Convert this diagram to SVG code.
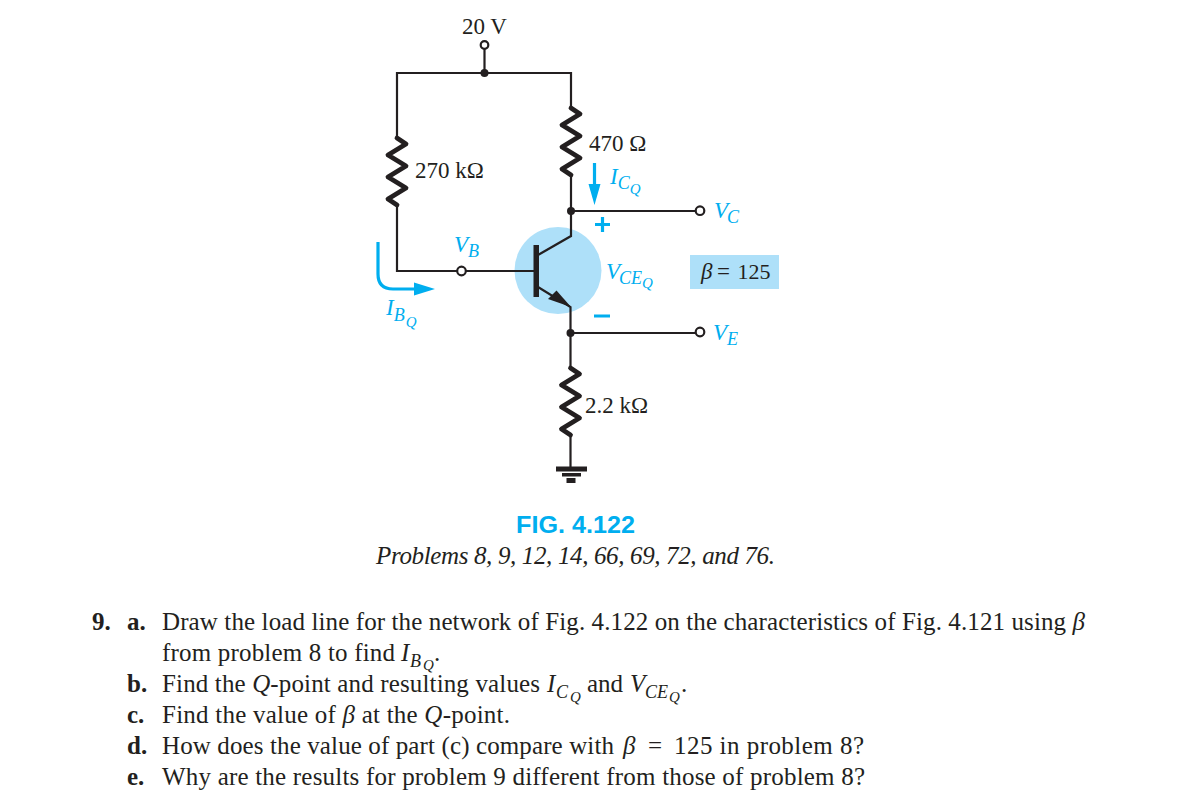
<svg xmlns="http://www.w3.org/2000/svg" width="1191" height="797" viewBox="0 0 1191 797">
<style>
text{font-family:"Liberation Serif","Times New Roman",serif;fill:#231f20}
.w{fill:none;stroke:#231f20;stroke-width:2.2;stroke-linejoin:miter}
.r{fill:none;stroke:#231f20;stroke-width:4.8;stroke-linejoin:round;stroke-linecap:round}
.b{fill:none;stroke:#00aeef;stroke-width:3.2}
.o{fill:#fff;stroke:#231f20;stroke-width:2.2}
.d{fill:#231f20}
.l{font-size:23px}
.v{font-size:23px;font-style:italic;fill:#00aeef}
.s{font-size:18px}
.t{font-size:15px}
.q{font-size:25px}
.qs{font-size:18px;font-style:italic}
.qt{font-size:15px;font-style:italic}
.m{font-weight:bold}
.i{font-style:italic}
.f{font-family:"Liberation Sans Narrow","Liberation Sans",Arial,sans-serif;font-weight:bold;font-size:23px;fill:#00aeef}
</style>
<defs>
<path id="res" class="r" d="M0 0L9 6L-9 17L9 28L-9 39L9 50L-9 61L0 67"/>
</defs>
<g id="highlights">
<circle cx="558" cy="270.500" r="43.500" fill="#aee0f9"/>
<rect x="690" y="255" width="89" height="34" fill="#aee0f9"/>
</g>
<g id="connectors">
<path class="w" d="M484.500 49V73M397 138V73H571V108M571 175V236L538 255"/>
<path class="w" d="M397 205V271H457M466 271H534"/>
<path class="w" d="M571 211H695M538 287L570.500 307V368M570.500 435V468M570.500 333H695"/>
<path d="M571 307L548 299L556.500 290.500Z" class="d"/>
<path class="b" d="M378 242V274Q378 289 393 289H418"/>
<path d="M435 289L414 282.500V295.500Z" fill="#00aeef"/>
<path class="b" d="M594.500 163V190"/>
<path d="M594.500 205L588.500 184H600.500Z" fill="#00aeef"/>
<path class="b" d="M595 224.500H610M602.500 217V232M594 316H610"/>
</g>
<g id="vcc">
<circle class="o" cx="484.500" cy="45" r="3.800"/>
<circle class="d" cx="484.500" cy="73" r="4"/>
<text class="l" x="462" y="34">20 V</text>
</g>
<g id="r-b">
<use href="#res" x="397" y="138"/>
<text class="l" x="415" y="178">270 kΩ</text>
</g>
<g id="r-c">
<use href="#res" x="571" y="108"/>
<text class="l" x="589" y="151">470 Ω</text>
</g>
<g id="r-e">
<use href="#res" x="570.500" y="368"/>
<text class="l" x="585" y="413">2.2 kΩ</text>
</g>
<g id="ground">
<rect class="d" x="556" y="466.500" width="31" height="5"/>
<rect class="d" x="562" y="473" width="19" height="3.500"/>
<rect class="d" x="566.500" y="478" width="9" height="5"/>
</g>
<g id="base-node">
<circle class="o" cx="461.500" cy="271" r="4.300"/>
<text class="v" x="454" y="252">V<tspan class="s" dy="5">B</tspan></text>
</g>
<g id="transistor">
<rect class="d" x="533.500" y="245" width="5.500" height="52"/>
</g>
<g id="node-c">
<circle class="d" cx="571" cy="211" r="4"/>
<circle class="o" cx="700" cy="210.700" r="4.300"/>
<text class="v" x="714" y="218">V<tspan class="s" dy="5" dx="-1">C</tspan></text>
</g>
<g id="node-e">
<circle class="d" cx="570.500" cy="333" r="4"/>
<circle class="o" cx="700" cy="332" r="4.300"/>
<text class="v" x="713" y="340">V<tspan class="s" dy="5">E</tspan></text>
</g>
<g id="labels">
<text class="v" x="606" y="279">V<tspan class="s" dy="5" dx="-1">CE</tspan><tspan class="t" dy="4">Q</tspan></text>
<text class="v" x="610" y="184">I<tspan class="s" dy="5">C</tspan><tspan class="t" dy="5">Q</tspan></text>
<text class="v" x="386" y="315">I<tspan class="s" dy="6">B</tspan><tspan class="t" dy="6" dx="1">Q</tspan></text>
<text class="l i" x="701" y="279">β</text>
<text class="l" x="717" y="279">=</text>
<text x="737.500" y="279" font-size="22">125</text>
</g>
<g id="caption">
<text class="f" x="516" y="533" textLength="119" lengthAdjust="spacingAndGlyphs">FIG. 4.122</text>
<text class="q i" x="376" y="564" textLength="399">Problems 8, 9, 12, 14, 66, 69, 72, and 76.</text>
</g>
<g id="questions">
<text class="q m" x="92" y="630">9.</text>
<text class="q m" x="127" y="630">a.</text>
<text class="q" x="162" y="630" textLength="923">Draw the load line for the network of Fig. 4.122 on the characteristics of Fig. 4.121 using <tspan class="i">β</tspan></text>
<text class="q" x="162" y="661" textLength="233">from problem 8 to find</text>
<text class="q i" x="401" y="661">I</text>
<text class="qs" x="410" y="667">B</text><text class="qt" x="423" y="670">Q</text><text class="q" x="434" y="661">.</text>
<text class="q m" x="127" y="692">b.</text>
<text class="q" x="162" y="692" textLength="378">Find the <tspan class="i">Q</tspan>-point and resulting values</text>
<text class="q i" x="547" y="692">I</text>
<text class="qs" x="556" y="698">C</text><text class="qt" x="570" y="702">Q</text>
<text class="q" x="587" y="692">and</text><text class="q i" x="630" y="692">V</text>
<text class="qs" x="645" y="698">CE</text><text class="qt" x="669" y="702">Q</text><text class="q" x="681" y="692">.</text>
<text class="q m" x="127" y="723">c.</text>
<text class="q" x="162" y="723" textLength="348">Find the value of <tspan class="i">β</tspan> at the <tspan class="i">Q</tspan>-point.</text>
<text class="q m" x="127" y="754">d.</text>
<text class="q" x="162" y="754" textLength="452">How does the value of part (c) compare with</text>
<text class="q i" x="623" y="754">β</text><text class="q" x="648" y="754">=</text>
<text class="q" x="674" y="754" textLength="190">125 in problem 8?</text>
<text class="q m" x="127" y="785">e.</text>
<text class="q" x="162" y="785" textLength="703">Why are the results for problem 9 different from those of problem 8?</text>
</g>
</svg>
